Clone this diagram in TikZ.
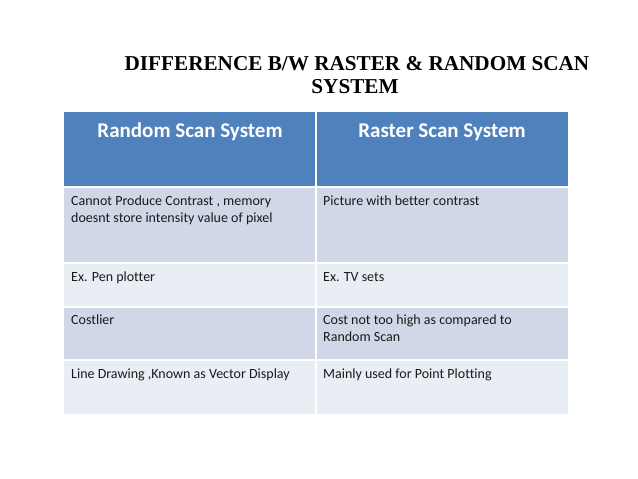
\documentclass[tikz,border=0pt]{standalone}
\usepackage{fontspec}
\setmainfont[Ligatures=NoCommon]{Carlito}
\newfontfamily\titlefont{Liberation Serif}
\definecolor{hdrblue}{HTML}{4F81BD}
\definecolor{rowdark}{HTML}{D0D8E8}
\definecolor{rowlight}{HTML}{E9EDF4}
\definecolor{bodytext}{HTML}{1A1A1A}
\tikzset{
  titletext/.style={inner sep=0pt, anchor=base, font=\titlefont\bfseries\fontsize{21.2}{24}\selectfont, text=black},
  hdrtext/.style={inner sep=0pt, anchor=base, font=\bfseries\fontsize{21}{24}\selectfont, text=white},
  celltext/.style={inner sep=0pt, anchor=base west, align=left, font=\fontsize{14}{17}\selectfont, text=bodytext},
  sepline/.style={white, line width=1.2pt}
}
\begin{document}
\begin{tikzpicture}[x=1pt,y=-1pt]
\useasboundingbox (0,0) rectangle (638,479);
\fill[white] (0,0) rectangle (638,479);
% title
\node[titletext] (t1) at (357,70) {DIFFERENCE B/W RASTER \& RANDOM SCAN};
\node[titletext] (t2) at (355,93) {SYSTEM};
% table fills
\fill[hdrblue] (64,112) rectangle (568,187);
\fill[rowdark] (64,187) rectangle (568,263);
\fill[rowlight] (64,263) rectangle (568,307);
\fill[rowdark] (64,307) rectangle (568,360);
\fill[rowlight] (64,360) rectangle (568,414);
% separators
\draw[sepline] (316,112) -- (316,414);
\draw[sepline] (64,187) -- (568,187);
\draw[sepline] (64,263) -- (568,263);
\draw[sepline] (64,307) -- (568,307);
\draw[sepline] (64,360) -- (568,360);
% header
\node[hdrtext] (h1) at (190,137) {Random Scan System};
\node[hdrtext] (h2) at (442,137) {Raster Scan System};
% cells (two-line cells are placed by the baseline of their last line)
\node[celltext] (c11) at (71,222) {Cannot Produce Contrast , memory\\doesnt store intensity value of pixel};
\node[celltext] (c12) at (323,205) {Picture with better contrast};
\node[celltext] (c21) at (71,281) {Ex. Pen plotter};
\node[celltext] (c22) at (323,281) {Ex. TV sets};
\node[celltext] (c31) at (71,324) {Costlier};
\node[celltext] (c32) at (323,341) {Cost not too high as compared to\\Random Scan};
\node[celltext] (c41) at (71,378) {Line Drawing ,Known as Vector Display};
\node[celltext] (c42) at (323,378) {Mainly used for Point Plotting};
\end{tikzpicture}
\end{document}
